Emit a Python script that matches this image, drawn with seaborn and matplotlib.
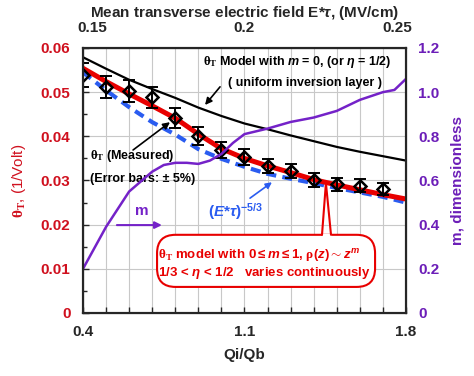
import numpy as np
import pandas as pd
import matplotlib
matplotlib.use("Agg")
import matplotlib.pyplot as plt
from matplotlib.patches import FancyBboxPatch
import seaborn as sns

# ---------------- data ----------------
qiqb_meas = [0.4, 0.5, 0.6, 0.7, 0.8, 0.9, 1.0, 1.1, 1.2, 1.3, 1.4, 1.5, 1.6, 1.7]
theta_meas = [0.0539, 0.0512, 0.0503, 0.0488, 0.0441, 0.0401, 0.0369, 0.0353,
              0.0333, 0.0322, 0.0301, 0.0291, 0.0288, 0.0280]
err_frac = 0.05

qiqb_model = [0.4, 0.5, 0.6, 0.7, 0.8, 0.9, 1.0, 1.1, 1.2, 1.3, 1.4, 1.5, 1.6, 1.7, 1.8]
theta_model_m = [0.0554, 0.0524, 0.0496, 0.0469, 0.0441, 0.0405, 0.0372, 0.0350,
                 0.0333, 0.0318, 0.0302, 0.0290, 0.0279, 0.0268, 0.0258]
theta_model_m0 = [0.0579, 0.0553, 0.0528, 0.0507, 0.0487, 0.0465, 0.0446, 0.0429,
                  0.0416, 0.0402, 0.0389, 0.0376, 0.0365, 0.0355, 0.0345]
theta_power = [0.0545, 0.0504, 0.0466, 0.0432, 0.0404, 0.0371, 0.0349, 0.0331,
               0.0315, 0.0304, 0.0294, 0.0283, 0.0273, 0.0263, 0.0250]

qiqb_m = [0.4, 0.5, 0.6, 0.7, 0.75, 0.8, 0.85, 0.9, 0.95, 1.0, 1.05, 1.1, 1.2,
          1.3, 1.4, 1.5, 1.6, 1.7, 1.75, 1.8]
m_vals = [0.20, 0.39, 0.55, 0.64, 0.67, 0.68, 0.68, 0.675, 0.69, 0.72, 0.77, 0.81,
          0.835, 0.865, 0.885, 0.915, 0.965, 1.0, 1.01, 1.06]

left_ticks = [0, 0.01, 0.02, 0.03, 0.04, 0.05, 0.06]
left_labels = ["0", "0.01", "0.02", "0.03", "0.04", "0.05", "0.06"]
right_ticks = [0, 0.2, 0.4, 0.6, 0.8, 1.0, 1.2]
right_labels = ["0", "0.2", "0.4", "0.6", "0.8", "1.0", "1.2"]
bottom_ticks = [0.4, 1.1, 1.8]
bottom_labels = ["0.4", "1.1", "1.8"]
top_ticks = [0.15, 0.2, 0.25]
top_labels = ["0.15", "0.2", "0.25"]

# ---------------- style ----------------
sns.set_style("ticks")
plt.rcParams['font.family'] = ['Liberation Sans', 'DejaVu Sans']
plt.rcParams['font.weight'] = 'bold'
plt.rcParams['mathtext.fontset'] = 'custom'
plt.rcParams['mathtext.rm'] = 'Liberation Sans:bold'
plt.rcParams['mathtext.bf'] = 'Liberation Sans:bold'
plt.rcParams['mathtext.it'] = 'Liberation Sans:bold:italic'
plt.rcParams['mathtext.sf'] = 'Liberation Serif'

RED = '#e80000'
RED_TXT = '#d0101e'
BLUE = '#2a5cf0'
PURPLE = '#7422c8'
PURPLE_TXT = '#6c1eb8'

fig = plt.figure(figsize=(4.74, 3.76), dpi=100)
ax = fig.add_axes([0.1751, 0.1676, 0.6814, 0.7048])

df_model = pd.DataFrame({"x": qiqb_model, "m": theta_model_m, "m0": theta_model_m0, "p": theta_power})
df_meas = pd.DataFrame({"x": qiqb_meas, "y": theta_meas})
df_mm = pd.DataFrame({"x": qiqb_m, "m": m_vals})

sns.lineplot(data=df_model, x="x", y="m0", ax=ax, color='black', lw=1.6, zorder=3)
sns.lineplot(data=df_model, x="x", y="p", ax=ax, color=BLUE, lw=3.0,
             linestyle=(0, (2.4, 1.5)), zorder=3)
sns.lineplot(data=df_model, x="x", y="m", ax=ax, color=RED, lw=3.6, zorder=4)
ax.errorbar(qiqb_meas, theta_meas, yerr=[v * err_frac for v in theta_meas], fmt='none',
            ecolor='black', elinewidth=1.4, capsize=4.5, capthick=1.4, zorder=5)
sns.lineplot(data=df_meas, x="x", y="y", ax=ax, linestyle='', marker='D', ms=6,
             markerfacecolor='none', markeredgecolor='black', mew=1.8, zorder=6)

ax.set_xlim(0.4, 1.8)
ax.set_ylim(0, 0.06)
ax.set_xticks(bottom_ticks)
ax.set_xticklabels(bottom_labels)
ax.set_xticks(np.arange(0.4, 1.801, 0.1), minor=True)
ax.set_yticks(left_ticks)
ax.set_yticklabels(left_labels)
ax.set_yticks(np.arange(0, 0.0601, 0.005), minor=True)
ax.grid(which='both', axis='x', color='#c8c8c8', lw=0.8)
ax.grid(which='major', axis='y', color='#c8c8c8', lw=0.8)
ax.tick_params(axis='both', which='both', direction='in', labelsize=11)
ax.tick_params(axis='x', which='major', length=4, width=1.0, pad=9)
ax.tick_params(axis='x', which='minor', length=4, width=1.0)
ax.tick_params(axis='y', which='major', length=4, width=1.0, pad=9, labelcolor=RED_TXT)
ax.tick_params(axis='y', which='minor', length=3, width=1.0)
for lab in ax.get_xticklabels() + ax.get_yticklabels():
    lab.set_fontweight('bold')
for s in ax.spines.values():
    s.set_linewidth(1.5)
    s.set_color('black')
ax.set_xlabel("Qi/Qb", fontsize=11, fontweight='bold', labelpad=6)
ax.set_ylabel(r"$\mathsf{\theta_T}$, (1/Volt)", fontsize=11, fontweight='normal',
              color=RED_TXT, labelpad=9)

# right axis (m)
ax2 = ax.twinx()
sns.lineplot(data=df_mm, x="x", y="m", ax=ax2, color=PURPLE, lw=1.8, zorder=2)
ax2.set_ylim(0, 1.2)
ax2.set_yticks(right_ticks)
ax2.set_yticklabels(right_labels)
ax2.tick_params(axis='y', direction='in', length=0, pad=9, labelsize=11, labelcolor=PURPLE_TXT)
for lab in ax2.get_yticklabels():
    lab.set_fontweight('bold')
ax2.set_ylabel("m, dimensionless", fontsize=11, fontweight='bold', color=PURPLE_TXT, labelpad=8)
ax2.grid(False)
for s in ax2.spines.values():
    s.set_linewidth(1.5)

# top axis
ax3 = ax.twiny()
ax3.set_xlim(0.14705, 0.25295)
ax3.set_xticks(top_ticks)
ax3.set_xticklabels(top_labels)
ax3.tick_params(axis='x', direction='in', length=0, pad=9, labelsize=11)
for lab in ax3.get_xticklabels():
    lab.set_fontweight('bold')
ax3.set_xlabel(r"Mean transverse electric field E*$\tau$, (MV/cm)", fontsize=11,
               fontweight='bold', labelpad=3)
ax3.grid(False)

# ---------------- annotations ----------------
txt_kw = dict(fontsize=9, fontweight='bold', color='black', zorder=10)
ax.text(0.920, 0.0568, r"$\mathsf{\theta_T}$ Model with $m$ = 0, (or $\eta$ = 1/2)",
        va='center', ha='left', **txt_kw)
ax.text(1.028, 0.0521, "( uniform inversion layer )", va='center', ha='left', **txt_kw)
ax.annotate("", xy=(0.929, 0.0471), xytext=(0.994, 0.0512),
            arrowprops=dict(arrowstyle='-|>', color='black', lw=1.2, mutation_scale=10,
                            shrinkA=0, shrinkB=0), zorder=10)

ax.text(0.432, 0.0355, r"$\mathsf{\theta_T}$ (Measured)", va='center', ha='left', **txt_kw)
ax.text(0.430, 0.0303, "(Error bars: ± 5%)", va='center', ha='left', **txt_kw)
ax.annotate("", xy=(0.777, 0.0432), xytext=(0.617, 0.0369),
            arrowprops=dict(arrowstyle='-|>', color='black', lw=1.2, mutation_scale=10,
                            shrinkA=0, shrinkB=0), zorder=10)

ax.text(0.656, 0.0232, "m", va='center', ha='center', fontsize=11, fontweight='bold',
        color=PURPLE, zorder=10)
ax.annotate("", xy=(0.742, 0.0199), xytext=(0.547, 0.0199),
            arrowprops=dict(arrowstyle='-|>', color=PURPLE, lw=1.5, mutation_scale=10,
                            shrinkA=0, shrinkB=0), zorder=10)

ax.text(0.942, 0.0230, r"$(E$*$\tau)^{-5/3}$", va='center', ha='left', fontsize=11,
        color=BLUE, zorder=10)
ax.annotate("", xy=(1.219, 0.0296), xytext=(1.124, 0.0260),
            arrowprops=dict(arrowstyle='-|>', color=BLUE, lw=1.2, mutation_scale=9,
                            shrinkA=0, shrinkB=0), zorder=10)

# red callout box
bx0, bx1, by0, by1 = 0.721, 1.666, 0.0059, 0.0177
box = FancyBboxPatch((bx0, by0), bx1 - bx0, by1 - by0,
                     boxstyle="round,pad=0,rounding_size=0.08",
                     mutation_aspect=(0.06 / 265) / (1.4 / 323),
                     fc='white', ec=RED, lw=1.5, zorder=8)
ax.add_patch(box)
ax.plot([1.436, 1.475], [by1, by1], color='white', lw=2.5, zorder=9, solid_capstyle='butt')
ax.plot([1.436, 1.453, 1.475], [by1, 0.0294, by1], color=RED, lw=1.5, zorder=9)
ax.text(0.727, 0.0131,
        r"$\mathsf{\theta_T}$ model with $\mathit{0} \leq \mathit{m} \leq \mathit{1}$, $\mathsf{\rho}\mathit{(z)} \sim \mathit{z}^{\mathit{m}}$",
        va='center', ha='left', fontsize=9.5, fontweight='bold', color=RED, zorder=10)
ax.text(0.727, 0.0090, r"$\mathit{1/3}$ < $\eta$ < $\mathit{1/2}$   varies continuously",
        va='center', ha='left', fontsize=9.5, fontweight='bold', color=RED, zorder=10)

fig.savefig("out.png", dpi=100)
